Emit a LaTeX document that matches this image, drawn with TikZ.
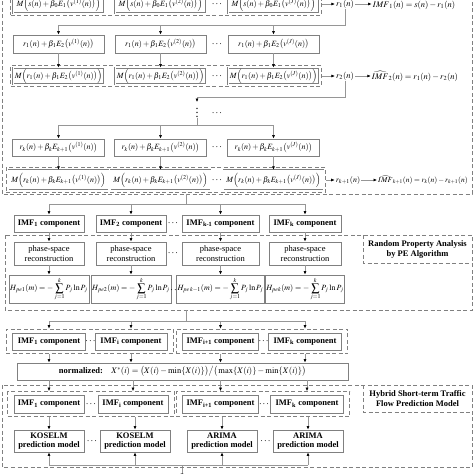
\documentclass[tikz,border=0pt]{standalone}
\usepackage{mathptmx}
\usepackage[no-math]{fontspec}
\setmainfont{Liberation Serif}
\usetikzlibrary{arrows.meta,fit}

\definecolor{edgegray}{RGB}{128,128,128}
\definecolor{wiregray}{RGB}{150,150,150}

\begin{document}
\begin{tikzpicture}[x=1pt,y=-1pt,
    every node/.style={font=\fontsize{8}{9}\selectfont, inner sep=1pt},
    box/.style={draw=edgegray, line width=0.8pt, fill=white, minimum height=17pt, align=center},
    mbox/.style={box, line width=0.45pt, double=white, double distance=0.9pt},
    comp/.style={box, font=\fontsize{8.5}{9.5}\selectfont\bfseries},
    dots/.style={font=\fontsize{9.5}{10}\selectfont},
    dashframe/.style={draw=edgegray, line width=0.9pt, dash pattern=on 4pt off 2.5pt},
    link/.style={draw=wiregray, line width=0.6pt},
    arr/.style={link, -{Latex[length=3.5pt, width=3pt, color=black]}}
]
\useasboundingbox (0,0) rectangle (474,474);
\clip (0,0) rectangle (474,474);

% first decomposition step
\node[mbox, minimum width=91pt, minimum height=18pt] (sa) at (58.5,4) {$M\Big(s(n)+\beta_0E_1\big(v^{(1)}(n)\big)\Big)$};
\node[mbox, minimum width=91pt, minimum height=18pt] (sb) at (160.5,4) {$M\Big(s(n)+\beta_0E_1\big(v^{(2)}(n)\big)\Big)$};
\node[dots] (dots1) at (217,4) {$\cdots$};
\node[mbox, minimum width=91pt, minimum height=18pt] (sc) at (273.5,4) {$M\Big(s(n)+\beta_0E_1\big(v^{(J)}(n)\big)\Big)$};
\node[dashframe, fit=(sa)(sc), inner sep=2pt] (row1) {};
\node[font=\fontsize{8.5}{9}\selectfont] (r1) at (345,4) {$r_1(n)$};
\node[font=\fontsize{8.5}{9}\selectfont] (imf1) at (414,4) {$\widehat{IMF}_1(n)=s(n)-r_1(n)$};
\draw[arr] (row1) -- (r1);
\draw[arr] (r1) -- (imf1);

% second decomposition step
\node[box, minimum width=91pt, minimum height=18pt] (ra) at (58.5,44) {$r_1(n)+\beta_1E_2\big(v^{(1)}(n)\big)$};
\node[box, minimum width=91pt, minimum height=18pt] (rb) at (160.5,44) {$r_1(n)+\beta_1E_2\big(v^{(2)}(n)\big)$};
\node[dots] (dots2) at (217,44) {$\cdots$};
\node[box, minimum width=91pt, minimum height=18pt] (rc) at (273.5,44) {$r_1(n)+\beta_1E_2\big(v^{(J)}(n)\big)$};
\coordinate (h1) at (0,25);
\draw[link] (r1.south) |- (h1 -| ra.north);
\foreach \n in {ra,rb,rc} \draw[arr] (h1 -| \n.north) -- (\n.north);

\node[mbox, minimum width=91pt, minimum height=16pt] (ta) at (58.5,76) {$M\Big(r_1(n)+\beta_1E_2\big(v^{(1)}(n)\big)\Big)$};
\node[mbox, minimum width=91pt, minimum height=16pt] (tb) at (160.5,76) {$M\Big(r_1(n)+\beta_1E_2\big(v^{(2)}(n)\big)\Big)$};
\node[dots] (dots4) at (217,76) {$\cdots$};
\node[mbox, minimum width=91pt, minimum height=16pt] (tc) at (273.5,76) {$M\Big(r_1(n)+\beta_1E_2\big(v^{(J)}(n)\big)\Big)$};
\node[dashframe, fit=(ta)(tc), inner sep=2pt] (row3) {};
\foreach \a/\b in {ra/ta,rb/tb,rc/tc} \draw[arr] (\a) -- (\b);
\node[font=\fontsize{8.5}{9}\selectfont] (r2) at (345,76) {$r_2(n)$};
\node[font=\fontsize{8.5}{9}\selectfont] (imf2) at (415,76) {$\widehat{IMF}_2(n)=r_1(n)-r_2(n)$};
\draw[arr] (row3) -- (r2);
\draw[arr] (r2) -- (imf2);

% last decomposition step
\node[box, minimum width=92pt] (ka) at (58.5,147.5) {$r_k(n)+\beta_kE_{k+1}\big(v^{(1)}(n)\big)$};
\node[box, minimum width=92pt] (kb) at (160.5,147.5) {$r_k(n)+\beta_kE_{k+1}\big(v^{(2)}(n)\big)$};
\node[dots] (dots5) at (217,147.5) {$\cdots$};
\node[box, minimum width=92pt] (kc) at (273.5,147.5) {$r_k(n)+\beta_kE_{k+1}\big(v^{(J)}(n)\big)$};

% further steps
\node[font=\fontsize{12}{12}\selectfont, inner sep=0pt] (vd) at (197,110) {$\vdots$};
\node[dots] (dots3) at (217,113) {$\cdots$};
\coordinate (h2) at (0,97);
\draw[arr] (r2.south) |- (h2 -| vd) -- (vd.north);
\coordinate (h3) at (0,125);
\draw[link] (vd.south) -- (h3 -| vd);
\draw[link] (h3 -| ka.north) -- (h3 -| kc.north);
\foreach \n in {ka,kb,kc} \draw[arr] (h3 -| \n.north) -- (\n.north);

\node[mbox, minimum width=100pt, minimum height=20pt] (la) at (58.5,180) {$M\Big(r_k(n)+\beta_kE_{k+1}\big(v^{(1)}(n)\big)\Big)$};
\node[mbox, minimum width=100pt, minimum height=20pt] (lb) at (160.5,180) {$M\Big(r_k(n)+\beta_kE_{k+1}\big(v^{(2)}(n)\big)\Big)$};
\node[dots] (dots6) at (217,180) {$\cdots$};
\node[mbox, minimum width=100pt, minimum height=20pt] (lc) at (273.5,180) {$M\Big(r_k(n)+\beta_kE_{k+1}\big(v^{(J)}(n)\big)\Big)$};
\node[dashframe, fit=(la)(lc), inner sep=2pt] (row5) {};
\foreach \a/\b in {ka/la,kb/lb,kc/lc} \draw[arr] (\a) -- (\b);
\node (rk1) at (348,180) {$r_{k+1}(n)$};
\node[font=\fontsize{7.5}{8}\selectfont] (imfk1) at (423,180) {$\widehat{IMF}_{k+1}(n)=r_k(n)-r_{k+1}(n)$};
\draw[arr] (row5) -- (rk1);
\draw[arr] (rk1) -- (imfk1);

\draw[dashframe] (2,-12) rectangle (472,194); % decomposition frame

% IMF components
\node[comp, minimum width=70pt] (ia) at (49,223.5) {IMF\textsubscript{1} component};
\node[comp, minimum width=70pt] (ib) at (131,223.5) {IMF\textsubscript{2} component};
\node[dots] (dots7) at (173,223.5) {$\cdots$};
\node[comp, minimum width=77pt] (ic) at (220.5,223.5) {IMF\textsubscript{k-1} component};
\node[comp, minimum width=72pt] (id) at (305,223.5) {IMF\textsubscript{k} component};
\coordinate (b1) at (186,194);
\coordinate (h4) at (0,204);
\draw[link] (b1) -- (h4 -| b1);
\draw[link] (h4 -| ia.north) -- (h4 -| id.north);
\foreach \n in {ia,ib,ic,id} \draw[arr] (h4 -| \n.north) -- (\n.north);

% permutation entropy
\node[box, minimum width=70pt, minimum height=23pt, font=\fontsize{8.5}{9.5}\selectfont] (xa) at (49,253.5) {phase-space\\reconstruction};
\node[box, minimum width=70pt, minimum height=23pt, font=\fontsize{8.5}{9.5}\selectfont] (xb) at (131,253.5) {phase-space\\reconstruction};
\node[dots] (dots8) at (173,253.5) {$\cdots$};
\node[box, minimum width=77pt, minimum height=23pt, font=\fontsize{8.5}{9.5}\selectfont] (xc) at (220.5,253.5) {phase-space\\reconstruction};
\node[box, minimum width=72pt, minimum height=23pt, font=\fontsize{8.5}{9.5}\selectfont] (xd) at (305,253.5) {phase-space\\reconstruction};

\node[box, minimum width=80pt, minimum height=28pt, font=\fontsize{8}{9}\selectfont] (ha) at (49,289) {$H_{pe1}(m)=-\displaystyle\sum_{j=1}^{k}P_j\ln P_j$};
\node[box, minimum width=80pt, minimum height=28pt, font=\fontsize{8}{9}\selectfont] (hb) at (131,289) {$H_{pe2}(m)=-\displaystyle\sum_{j=1}^{k}P_j\ln P_j$};
\node[dots] (dots9) at (175.5,290) {$\cdots$};
\node[box, minimum width=84pt, minimum height=28pt, font=\fontsize{8}{9}\selectfont] (hc) at (220.5,289) {$H_{pe\,k-1}(m)=-\displaystyle\sum_{j=1}^{k}P_j\ln P_j$};
\node[box, minimum width=73pt, minimum height=28pt, font=\fontsize{8}{9}\selectfont] (hd) at (305,289) {$H_{pek}(m)=-\displaystyle\sum_{j=1}^{k}P_j\ln P_j$};
\foreach \a/\b/\c in {ia/xa/ha,ib/xb/hb,ic/xc/hc,id/xd/hd} {
  \draw[arr] (\a) -- (\b);
  \draw[arr] (\b) -- (\c);
}

\draw[dashframe] (5,235) rectangle (472,310); % PE frame
\draw[dashframe] (363,235) |- (472,263);
\node[font=\fontsize{8.5}{10}\selectfont\bfseries, align=center] (pelabel) at (417.5,249) {Random Property Analysis\\by PE Algorithm};

% grouped components
\node[comp, minimum width=73pt] (ga1) at (49,341.5) {IMF\textsubscript{1} component};
\node[dots] (dots10) at (90.5,341.5) {$\cdots$};
\node[comp, minimum width=72pt] (ga2) at (131,341.5) {IMF\textsubscript{i} component};
\node[comp, minimum width=76pt] (gb1) at (220.5,341.5) {IMF\textsubscript{i+1} component};
\node[dots] (dots11) at (263.5,341.5) {$\cdots$};
\node[comp, minimum width=73pt] (gb2) at (305,341.5) {IMF\textsubscript{k} component};
\node[dashframe, fit=(ga1)(ga2), inner xsep=6pt, inner ysep=3.5pt] (ga) {};
\node[dashframe, fit=(gb1)(gb2), inner xsep=6pt, inner ysep=3.5pt] (gb) {};
\coordinate (b2) at (186,310);
\coordinate (h5) at (0,321);
\draw[link] (b2) -- (h5 -| b2);
\draw[link] (h5 -| ga1) -- (h5 -| gb2);
\foreach \n/\g in {ga1/ga,ga2/ga,gb1/gb,gb2/gb} \draw[arr] (h5 -| \n) -- (\n |- \g.north);

\node[box, minimum width=331pt, font=\fontsize{8.5}{9.5}\selectfont] (nz) at (182.5,371.5) {\textbf{normalized:}\quad $X^*(i)=\big(X(i)-\min\{X(i)\}\big)\big/\big(\max\{X(i)\}-\min\{X(i)\}\big)$};
\foreach \n/\g in {ga1/ga,ga2/ga,gb1/gb,gb2/gb} \draw[arr] (\n |- \g.south) -- (\n |- nz.north);

% hybrid prediction
\node[comp, minimum width=70pt, minimum height=18pt] (fa1) at (49,404) {IMF\textsubscript{1} component};
\node[dots] (dots12) at (91,404) {$\cdots$};
\node[comp, minimum width=70pt, minimum height=18pt] (fa2) at (133,404) {IMF\textsubscript{i} component};
\node[comp, minimum width=76pt, minimum height=18pt] (fb1) at (220.5,404) {IMF\textsubscript{i+1} component};
\node[dots] (dots13) at (264,404) {$\cdots$};
\node[comp, minimum width=73pt, minimum height=18pt] (fb2) at (307,404) {IMF\textsubscript{k} component};
\node[dashframe, fit=(fa1)(fa2), inner xsep=6pt, inner ysep=3pt] (fa) {};
\node[dashframe, fit=(fb1)(fb2), inner xsep=6pt, inner ysep=3pt] (fb) {};
\foreach \n/\g in {fa1/fa,fa2/fa,fb1/fb,fb2/fb} \draw[arr] (\n |- nz.south) -- (\n |- \g.north);

\node[comp, minimum width=70pt, minimum height=22pt, font=\fontsize{8.5}{9}\selectfont\bfseries] (koa) at (49,441) {KOSELM\\prediction model};
\node[dots] (dots14) at (92,441) {$\cdots$};
\node[comp, minimum width=70pt, minimum height=22pt, font=\fontsize{8.5}{9}\selectfont\bfseries] (kob) at (135,441) {KOSELM\\prediction model};
\node[comp, minimum width=70pt, minimum height=22pt, font=\fontsize{8.5}{9}\selectfont\bfseries] (ara) at (222,441) {ARIMA\\prediction model};
\node[dots] (dots15) at (265.5,441) {$\cdots$};
\node[comp, minimum width=70pt, minimum height=22pt, font=\fontsize{8.5}{9}\selectfont\bfseries] (arb) at (308,441) {ARIMA\\prediction model};
\foreach \n/\g in {koa/fa,kob/fa,ara/fb,arb/fb} \draw[arr] (\n |- \g.south) -- (\n.north);

\coordinate (h6) at (0,465);
\coordinate (out) at (182,477);
\draw[link] (h6 -| koa) -- (h6 -| arb);
\foreach \n in {koa,kob,ara,arb} \draw[arr] (h6 -| \n) -- (\n.south);
\draw[arr] (h6 -| out) -- (out);

\draw[dashframe] (2,385) rectangle (472,467); % hybrid frame
\draw[dashframe] (363,385) |- (472,412);
\node[font=\fontsize{8.5}{10}\selectfont\bfseries, align=center] (hylabel) at (417.5,398.5) {Hybrid Short-term Traffic\\Flow Prediction Model};
\end{tikzpicture}
\end{document}
